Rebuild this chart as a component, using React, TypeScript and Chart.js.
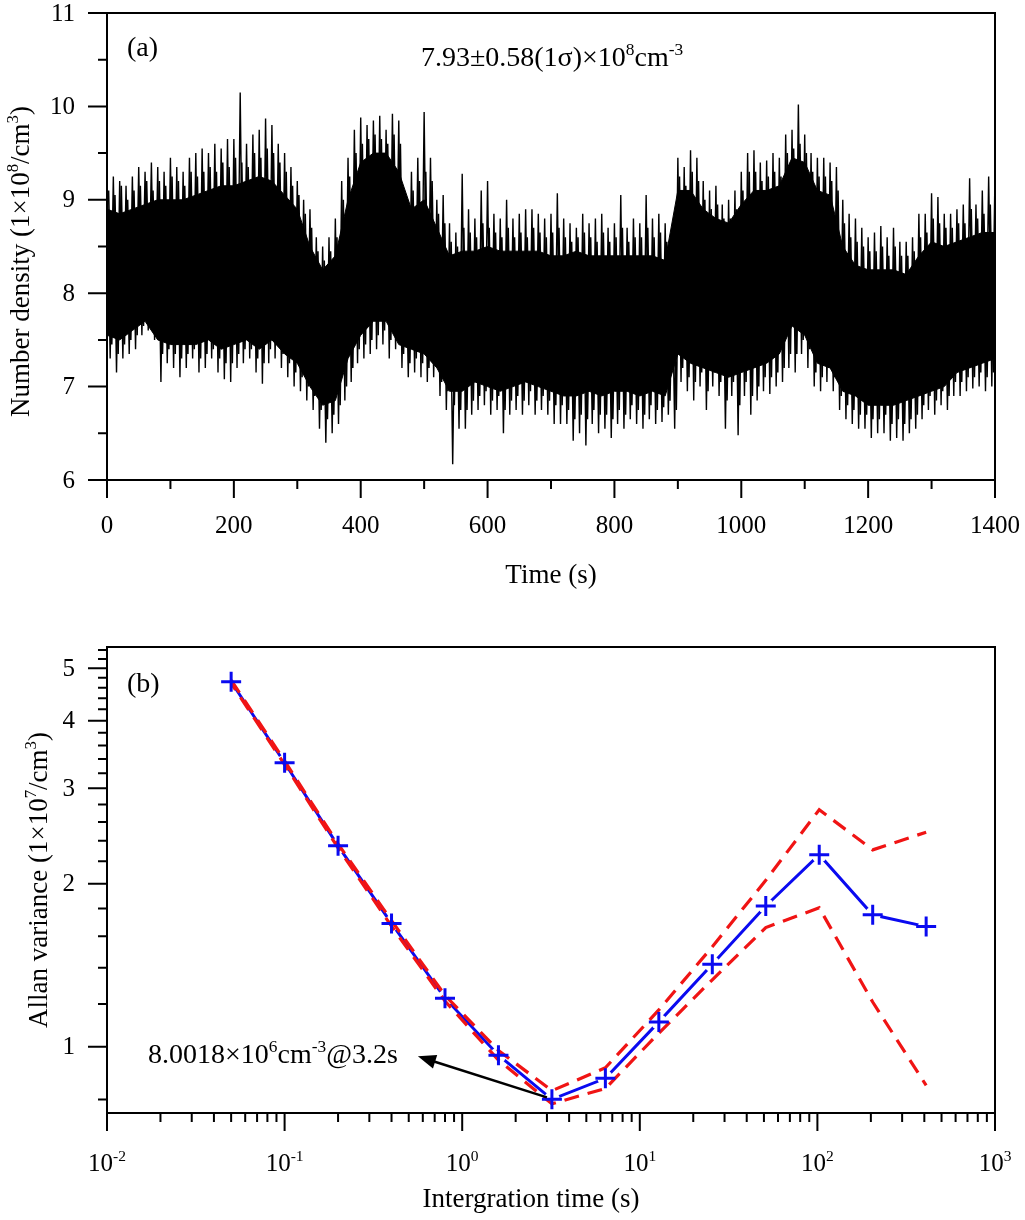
import React, { useEffect, useRef } from 'react';
import { Chart, registerables } from 'chart.js';
Chart.register(...registerables);

const FONT = '"Liberation Serif", "Times New Roman", "DejaVu Serif", serif';

// ---------------- Panel (a): number density time series ----------------
// extreme spikes read every 10 s (t = 0..1400)
const spikeHigh = [
  9.3, 9.25, 9.2, 9.15, 9.25, 9.35, 9.3, 9.4, 9.35, 9.3,
  9.45, 9.35, 9.3, 9.45, 9.5, 9.55, 9.5, 9.6, 9.55, 9.65,
  9.65, 10.15, 9.6, 9.7, 9.75, 9.87, 9.8, 9.6, 9.5, 9.35,
  9.2, 9.0, 8.9, 8.6, 8.5, 8.6, 8.8, 9.2, 9.45, 9.75,
  9.88, 9.8, 9.85, 9.9, 9.75, 9.92, 9.85, 9.0, 9.3, 9.45,
  9.94, 9.45, 9.0, 9.05, 8.75, 8.65, 9.28, 8.9, 8.8, 9.1,
  9.2, 8.85, 8.8, 9.0, 8.8, 8.85, 8.9, 8.9, 8.85, 8.8,
  8.85, 9.07, 8.8, 8.75, 8.7, 8.85, 8.75, 8.8, 8.85, 8.7,
  8.75, 9.05, 8.7, 8.8, 8.75, 9.05, 8.8, 8.85, 8.75, 8.6,
  9.45, 9.35, 9.53, 9.45, 9.2, 9.1, 9.15, 8.95, 9.0, 9.1,
  9.3, 9.5, 9.53, 9.4, 9.42, 9.5, 9.45, 9.7, 9.75, 10.02,
  9.7, 9.5, 9.45, 9.45, 9.4, 9.35, 9.0, 8.85, 8.8, 8.7,
  8.6, 8.65, 8.72, 8.6, 8.7, 8.55, 8.55, 8.6, 8.85, 8.85,
  9.07, 9.03, 8.85, 8.85, 8.9, 8.95, 9.23, 8.95, 9.1, 9.25,
  9.28,
];
const spikeLow = [
  7.3, 7.15, 7.3, 7.35, 7.4, 7.55, 7.6, 7.5, 7.05, 7.25,
  7.2, 7.1, 7.2, 7.3, 7.15, 7.2, 7.3, 7.15, 7.08, 7.05,
  7.2, 7.25, 7.3, 7.15, 7.03, 7.25, 7.3, 7.2, 7.1, 7.0,
  6.95, 6.85, 6.75, 6.55, 6.4, 6.5, 6.6, 6.85, 7.05, 7.25,
  7.3, 7.35, 7.4, 7.45, 7.3, 7.4, 7.2, 7.1, 7.15, 7.1,
  7.05, 7.1, 6.9, 6.75, 6.17, 6.55, 6.55, 6.7, 6.75, 6.8,
  6.7, 6.75, 6.5, 6.7, 6.75, 6.7, 6.8, 6.7, 6.75, 6.7,
  6.6, 6.6, 6.6, 6.42, 6.5, 6.37, 6.6, 6.5, 6.55, 6.45,
  6.6, 6.55, 6.65, 6.6, 6.55, 6.65, 6.6, 6.62, 6.7, 6.55,
  7.05, 6.95, 6.85, 7.0, 6.75, 7.0, 6.9, 6.55, 6.9, 6.48,
  6.9, 6.7, 6.85, 6.95, 6.92, 7.0, 7.05, 7.2, 7.15, 7.35,
  7.2, 7.0, 6.95, 7.05, 6.95, 6.75, 6.65, 6.6, 6.55, 6.55,
  6.45, 6.5, 6.5, 6.42, 6.45, 6.42, 6.5, 6.55, 6.65, 6.75,
  6.7, 6.8, 6.75, 6.9, 6.9, 6.95, 6.98, 7.0, 6.95, 7.0,
  7.05,
];
// typical (secondary) spike extents, read every 10 s
const hairHigh = [
  9.1, 9.05, 9.15, 9.0, 9.1, 9.15, 9.2, 9.1, 9.2, 9.15,
  9.25, 9.2, 9.15, 9.3, 9.25, 9.3, 9.35, 9.3, 9.4, 9.35,
  9.45, 9.4, 9.35, 9.5, 9.45, 9.55, 9.5, 9.4, 9.3, 9.15,
  9.05, 8.85, 8.7, 8.45, 8.35, 8.45, 8.6, 9.0, 9.25, 9.5,
  9.6, 9.65, 9.7, 9.65, 9.6, 9.7, 9.6, 8.8, 9.1, 9.2,
  9.3, 9.2, 8.85, 8.75, 8.55, 8.5, 8.7, 8.65, 8.6, 8.75,
  8.7, 8.65, 8.6, 8.7, 8.6, 8.65, 8.6, 8.7, 8.65, 8.6,
  8.65, 8.7, 8.6, 8.55, 8.6, 8.65, 8.6, 8.55, 8.65, 8.55,
  8.6, 8.7, 8.55, 8.6, 8.6, 8.7, 8.6, 8.65, 8.55, 8.45,
  9.25, 9.15, 9.3, 9.2, 9.0, 8.9, 8.95, 8.8, 8.8, 8.9,
  9.1, 9.3, 9.3, 9.2, 9.25, 9.3, 9.25, 9.5, 9.55, 9.6,
  9.5, 9.3, 9.25, 9.25, 9.2, 9.1, 8.75, 8.6, 8.55, 8.5,
  8.45, 8.45, 8.5, 8.4, 8.5, 8.4, 8.4, 8.45, 8.6, 8.65,
  8.8, 8.75, 8.7, 8.7, 8.75, 8.75, 8.9, 8.8, 8.85, 8.95,
  8.9,
];
const hairLow = [
  7.45, 7.35, 7.45, 7.5, 7.55, 7.65, 7.7, 7.6, 7.35, 7.4,
  7.35, 7.3, 7.35, 7.4, 7.3, 7.35, 7.4, 7.3, 7.25, 7.25,
  7.35, 7.4, 7.4, 7.3, 7.25, 7.4, 7.45, 7.35, 7.25, 7.15,
  7.1, 7.0, 6.9, 6.75, 6.65, 6.7, 6.8, 7.0, 7.2, 7.4,
  7.45, 7.5, 7.55, 7.6, 7.5, 7.55, 7.35, 7.25, 7.3, 7.25,
  7.2, 7.25, 7.05, 6.95, 6.8, 6.75, 6.75, 6.85, 6.9, 6.95,
  6.85, 6.9, 6.75, 6.85, 6.9, 6.85, 6.95, 6.85, 6.9, 6.85,
  6.8, 6.8, 6.75, 6.65, 6.7, 6.65, 6.75, 6.7, 6.7, 6.65,
  6.75, 6.7, 6.8, 6.75, 6.7, 6.8, 6.75, 6.78, 6.85, 6.75,
  7.2, 7.1, 7.05, 7.15, 6.95, 7.15, 7.05, 6.85, 7.05, 6.8,
  7.05, 6.9, 7.0, 7.1, 7.1, 7.15, 7.2, 7.35, 7.35, 7.5,
  7.4, 7.15, 7.1, 7.2, 7.1, 6.9, 6.8, 6.75, 6.7, 6.7,
  6.65, 6.65, 6.7, 6.6, 6.65, 6.6, 6.65, 6.7, 6.8, 6.9,
  6.85, 6.95, 6.9, 7.05, 7.05, 7.1, 7.1, 7.15, 7.1, 7.15,
  7.2,
];
// dense core of the trace, read every 20 s
const coreHigh = [
  8.9, 8.85, 8.9, 8.95, 9.0, 9.0, 9.0, 9.05, 9.1, 9.15,
  9.15, 9.2, 9.25, 9.2, 9.05, 8.9, 8.5, 8.25, 8.4, 9.0,
  9.4, 9.5, 9.5, 9.3, 8.9, 9.0, 8.7, 8.4, 8.45, 8.45,
  8.5, 8.45, 8.45, 8.45, 8.45, 8.4, 8.4, 8.45, 8.4, 8.4,
  8.4, 8.4, 8.4, 8.4, 8.35, 9.1, 9.1, 8.9, 8.8, 8.75,
  8.95, 9.1, 9.1, 9.15, 9.45, 9.4, 9.1, 9.05, 8.5, 8.3,
  8.25, 8.25, 8.25, 8.2, 8.4, 8.55, 8.5, 8.55, 8.6, 8.65,
  8.65,
];
const coreLow = [
  7.55, 7.5, 7.6, 7.7, 7.5, 7.45, 7.45, 7.45, 7.5, 7.4,
  7.45, 7.5, 7.4, 7.5, 7.35, 7.25, 7.0, 6.8, 6.85, 7.3,
  7.55, 7.7, 7.7, 7.45, 7.4, 7.35, 7.2, 6.95, 6.95, 7.05,
  7.0, 6.95, 7.0, 7.05, 7.0, 6.95, 6.9, 6.9, 6.95, 6.9,
  6.95, 6.95, 6.9, 6.95, 6.9, 7.35, 7.25, 7.2, 7.15, 7.1,
  7.15, 7.2, 7.25, 7.35, 7.65, 7.55, 7.25, 7.2, 6.95, 6.9,
  6.8, 6.8, 6.8, 6.85, 6.9, 6.95, 7.0, 7.15, 7.2, 7.25,
  7.3,
];
const xMajorA = [0, 200, 400, 600, 800, 1000, 1200, 1400];
const xMinorA = [100, 300, 500, 700, 900, 1100, 1300];
const yMajorA = [6, 7, 8, 9, 10, 11];
const yMinorA = [6.5, 7.5, 8.5, 9.5, 10.5];

// ---------------- Panel (b): Allan deviation ----------------
const tau = [0.05, 0.1, 0.2, 0.4, 0.8, 1.6, 3.2, 6.4, 12.8, 25.6, 51.2, 102.4, 204.8, 409.6];
const allan = [4.72, 3.345, 2.35, 1.69, 1.23, 0.965, 0.80018, 0.875, 1.112, 1.42, 1.82, 2.263, 1.753, 1.667];
const allanUpper = [4.75, 3.37, 2.37, 1.71, 1.245, 0.985, 0.83, 0.915, 1.17, 1.53, 2.03, 2.74, 2.31, 2.49];
const allanLower = [4.69, 3.32, 2.33, 1.67, 1.215, 0.945, 0.785, 0.838, 1.06, 1.33, 1.66, 1.806, 1.21, 0.849];
const xDecadesB = [-2, -1, 0, 1, 2, 3];
const yMajorB = [1, 2, 3, 4, 5];
const yMinorB = [0.8, 1.2, 1.4, 1.6, 1.8, 2.2, 2.4, 2.6, 2.8, 3.2, 3.4, 3.6, 3.8, 4.2, 4.4, 4.6, 4.8, 5.2, 5.4];

const BLUE = '#0a0af0';
const RED = '#f01414';

type Part = { t: string; sup?: boolean };

function drawRich(ctx: CanvasRenderingContext2D, parts: Part[], x: number, y: number, size: number, align: 'left' | 'center' | 'right') {
  let w = 0;
  for (const p of parts) {
    ctx.font = `${p.sup ? size * 0.62 : size}px ${FONT}`;
    w += ctx.measureText(p.t).width;
  }
  let cx = align === 'left' ? x : align === 'center' ? x - w / 2 : x - w;
  ctx.textAlign = 'left';
  ctx.textBaseline = 'alphabetic';
  for (const p of parts) {
    const s = p.sup ? size * 0.62 : size;
    ctx.font = `${s}px ${FONT}`;
    ctx.fillText(p.t, cx, p.sup ? y - size * 0.4 : y);
    cx += ctx.measureText(p.t).width;
  }
}

const TICK = 25;
const TITLE = 27;
const NOTE = 28;

const panelA = {
  id: 'panelA',
  afterDraw(chart: any) {
    const { ctx, chartArea: a, scales } = chart;
    const xs = scales.x, ys = scales.y;
    ctx.save();
    ctx.strokeStyle = '#000';
    ctx.fillStyle = '#000';
    ctx.lineWidth = 2;
    ctx.strokeRect(a.left, a.top, a.right - a.left, a.bottom - a.top);
    ctx.beginPath();
    for (const v of xMajorA) { const p = xs.getPixelForValue(v); ctx.moveTo(p, a.bottom); ctx.lineTo(p, a.bottom + 18); }
    for (const v of xMinorA) { const p = xs.getPixelForValue(v); ctx.moveTo(p, a.bottom); ctx.lineTo(p, a.bottom + 9); }
    for (const v of yMajorA) { const p = ys.getPixelForValue(v); ctx.moveTo(a.left, p); ctx.lineTo(a.left - 19, p); }
    for (const v of yMinorA) { const p = ys.getPixelForValue(v); ctx.moveTo(a.left, p); ctx.lineTo(a.left - 9, p); }
    ctx.stroke();
    ctx.font = `${TICK}px ${FONT}`;
    ctx.textAlign = 'center';
    ctx.textBaseline = 'middle';
    for (const v of xMajorA) ctx.fillText(String(v), xs.getPixelForValue(v), a.bottom + 46);
    ctx.textAlign = 'right';
    for (const v of yMajorA) ctx.fillText(String(v), a.left - 32, ys.getPixelForValue(v) + 1);
    ctx.font = `${TITLE}px ${FONT}`;
    ctx.textAlign = 'center';
    ctx.fillText('Time (s)', (a.left + a.right) / 2, a.bottom + 96);
    ctx.save();
    ctx.translate(29, (a.top + a.bottom) / 2 + 15);
    ctx.rotate(-Math.PI / 2);
    drawRich(ctx, [{ t: 'Number density (1×10' }, { t: '8', sup: true }, { t: '/cm' }, { t: '3', sup: true }, { t: ')' }], 0, 0, TITLE, 'center');
    ctx.restore();
    drawRich(ctx, [{ t: '(a)' }], a.left + 20, a.top + 43, NOTE, 'left');
    drawRich(ctx, [{ t: '7.93±0.58(1σ)×10' }, { t: '8', sup: true }, { t: 'cm' }, { t: '-3', sup: true }], 552, a.top + 53, NOTE, 'center');
    ctx.restore();
  },
};

const panelB = {
  id: 'panelB',
  afterDraw(chart: any) {
    const { ctx, chartArea: a, scales } = chart;
    const xs = scales.x, ys = scales.y;
    ctx.save();
    ctx.strokeStyle = '#000';
    ctx.fillStyle = '#000';
    ctx.lineWidth = 2;
    ctx.strokeRect(a.left, a.top, a.right - a.left, a.bottom - a.top);
    ctx.beginPath();
    for (const d of xDecadesB) {
      const base = Math.pow(10, d);
      const p = xs.getPixelForValue(base);
      ctx.moveTo(p, a.bottom); ctx.lineTo(p, a.bottom + 18);
      if (d < 3) {
        for (let m = 2; m <= 9; m++) {
          const q = xs.getPixelForValue(base * m);
          ctx.moveTo(q, a.bottom); ctx.lineTo(q, a.bottom + 9);
        }
      }
    }
    for (const v of yMajorB) { const p = ys.getPixelForValue(v); ctx.moveTo(a.left, p); ctx.lineTo(a.left - 19, p); }
    for (const v of yMinorB) { const p = ys.getPixelForValue(v); ctx.moveTo(a.left, p); ctx.lineTo(a.left - 9, p); }
    ctx.stroke();
    for (const d of xDecadesB) {
      drawRich(ctx, [{ t: '10' }, { t: String(d), sup: true }], xs.getPixelForValue(Math.pow(10, d)), a.bottom + 58, TICK, 'center');
    }
    ctx.font = `${TICK}px ${FONT}`;
    ctx.textAlign = 'right';
    ctx.textBaseline = 'middle';
    for (const v of yMajorB) ctx.fillText(String(v), a.left - 32, ys.getPixelForValue(v) + 1);
    ctx.font = `${TITLE}px ${FONT}`;
    ctx.textAlign = 'center';
    ctx.fillText('Intergration time (s)', (a.left + a.right) / 2 - 20, a.bottom + 87);
    ctx.save();
    ctx.translate(47, (a.top + a.bottom) / 2);
    ctx.rotate(-Math.PI / 2);
    drawRich(ctx, [{ t: 'Allan variance (1×10' }, { t: '7', sup: true }, { t: '/cm' }, { t: '3', sup: true }, { t: ')' }], 0, 0, TITLE, 'center');
    ctx.restore();
    drawRich(ctx, [{ t: '(b)' }], a.left + 20, a.top + 45, NOTE, 'left');
    // annotation
    const px = xs.getPixelForValue(tau[6]);
    const py = ys.getPixelForValue(allan[6]);
    drawRich(ctx, [{ t: '8.0018×10' }, { t: '6', sup: true }, { t: 'cm' }, { t: '-3', sup: true }, { t: '@3.2s' }], 148, py - 36, NOTE, 'left');
    const tx = px - 5, ty = py - 2;
    const hx = px - 134, hy = py - 43;
    const ang = Math.atan2(hy - ty, hx - tx);
    ctx.lineWidth = 2.5;
    ctx.beginPath();
    ctx.moveTo(tx, ty);
    ctx.lineTo(hx - Math.cos(ang) * 12, hy - Math.sin(ang) * 12);
    ctx.stroke();
    ctx.beginPath();
    ctx.moveTo(hx, hy);
    ctx.lineTo(hx - Math.cos(ang) * 18 + Math.sin(ang) * 7, hy - Math.sin(ang) * 18 - Math.cos(ang) * 7);
    ctx.lineTo(hx - Math.cos(ang) * 18 - Math.sin(ang) * 7, hy - Math.sin(ang) * 18 + Math.cos(ang) * 7);
    ctx.closePath();
    ctx.fill();
    ctx.restore();
  },
};

export default function App() {
  const refA = useRef<HTMLCanvasElement>(null);
  const refB = useRef<HTMLCanvasElement>(null);

  useEffect(() => {
    const zig: { x: number; y: number }[] = [];
    spikeHigh.forEach((h, i) => {
      zig.push({ x: i * 10, y: h });
      if (i < spikeLow.length - 1) zig.push({ x: i * 10 + 5, y: spikeLow[i] });
    });
    zig.push({ x: 1400, y: spikeLow[spikeLow.length - 1] });
    const zig2: { x: number; y: number }[] = [];
    for (let i = 0; i < hairHigh.length - 1; i++) {
      zig2.push({ x: i * 10 + 2.5, y: hairHigh[i] });
      zig2.push({ x: i * 10 + 7.5, y: hairLow[i] });
    }
    const coreH = coreHigh.map((v, i) => ({ x: i * 20, y: v }));
    const coreL = coreLow.map((v, i) => ({ x: i * 20, y: v }));

    const chartA = new Chart(refA.current!, {
      type: 'line',
      data: {
        datasets: [
          { data: zig, borderColor: '#000', borderWidth: 1.4, pointRadius: 0, fill: false, tension: 0 } as any,
          { data: zig2, borderColor: '#000', borderWidth: 1.6, pointRadius: 0, fill: false, tension: 0 } as any,
          { data: coreH, borderColor: '#000', borderWidth: 1, backgroundColor: '#000', pointRadius: 0, fill: '+1', tension: 0 } as any,
          { data: coreL, borderColor: '#000', borderWidth: 1, pointRadius: 0, fill: false, tension: 0 } as any,
        ],
      },
      options: {
        animation: false,
        responsive: false,
        events: [],
        layout: { padding: { left: 107, right: 30, top: 13, bottom: 130 } },
        plugins: { legend: { display: false }, tooltip: { enabled: false } },
        scales: {
          x: { type: 'linear', min: 0, max: 1400, display: false },
          y: { type: 'linear', min: 6, max: 11, display: false },
        },
      },
      plugins: [panelA],
    });

    const pts = (arr: number[]) => arr.map((v, i) => ({ x: tau[i], y: v }));
    const chartB = new Chart(refB.current!, {
      type: 'line',
      data: {
        datasets: [
          { data: pts(allan), borderColor: BLUE, borderWidth: 3, pointRadius: 0, fill: false, order: 4 } as any,
          { data: pts(allan), showLine: false, pointStyle: 'circle', pointRadius: 8, pointBorderWidth: 0, pointBackgroundColor: '#fff', order: 3 } as any,
          { data: pts(allanUpper), borderColor: RED, borderWidth: 3.2, borderDash: [15, 9], pointRadius: 0, fill: false, order: 2 } as any,
          { data: pts(allanLower), borderColor: RED, borderWidth: 3.2, borderDash: [15, 9], borderDashOffset: 7, pointRadius: 0, fill: false, order: 2 } as any,
          { data: pts(allan), showLine: false, pointStyle: 'cross', pointRadius: 10, pointBorderWidth: 3, pointBorderColor: BLUE, borderColor: BLUE, order: 1 } as any,
        ],
      },
      options: {
        animation: false,
        responsive: false,
        events: [],
        layout: { padding: { left: 107, right: 30, top: 37, bottom: 107 } },
        plugins: { legend: { display: false }, tooltip: { enabled: false } },
        scales: {
          x: { type: 'logarithmic', min: 0.01, max: 1000, display: false },
          y: { type: 'logarithmic', min: 0.755, max: 5.47, display: false },
        },
      },
      plugins: [panelB],
    });
    return () => { chartA.destroy(); chartB.destroy(); };
  }, []);

  return (
    <div style={{ position: 'absolute', left: 0, top: 0, width: 1025, height: 1220, background: '#fff' }}>
      <canvas ref={refA} width={1025} height={610} style={{ position: 'absolute', left: 0, top: 0 }} />
      <canvas ref={refB} width={1025} height={610} style={{ position: 'absolute', left: 0, top: 610 }} />
    </div>
  );
}
